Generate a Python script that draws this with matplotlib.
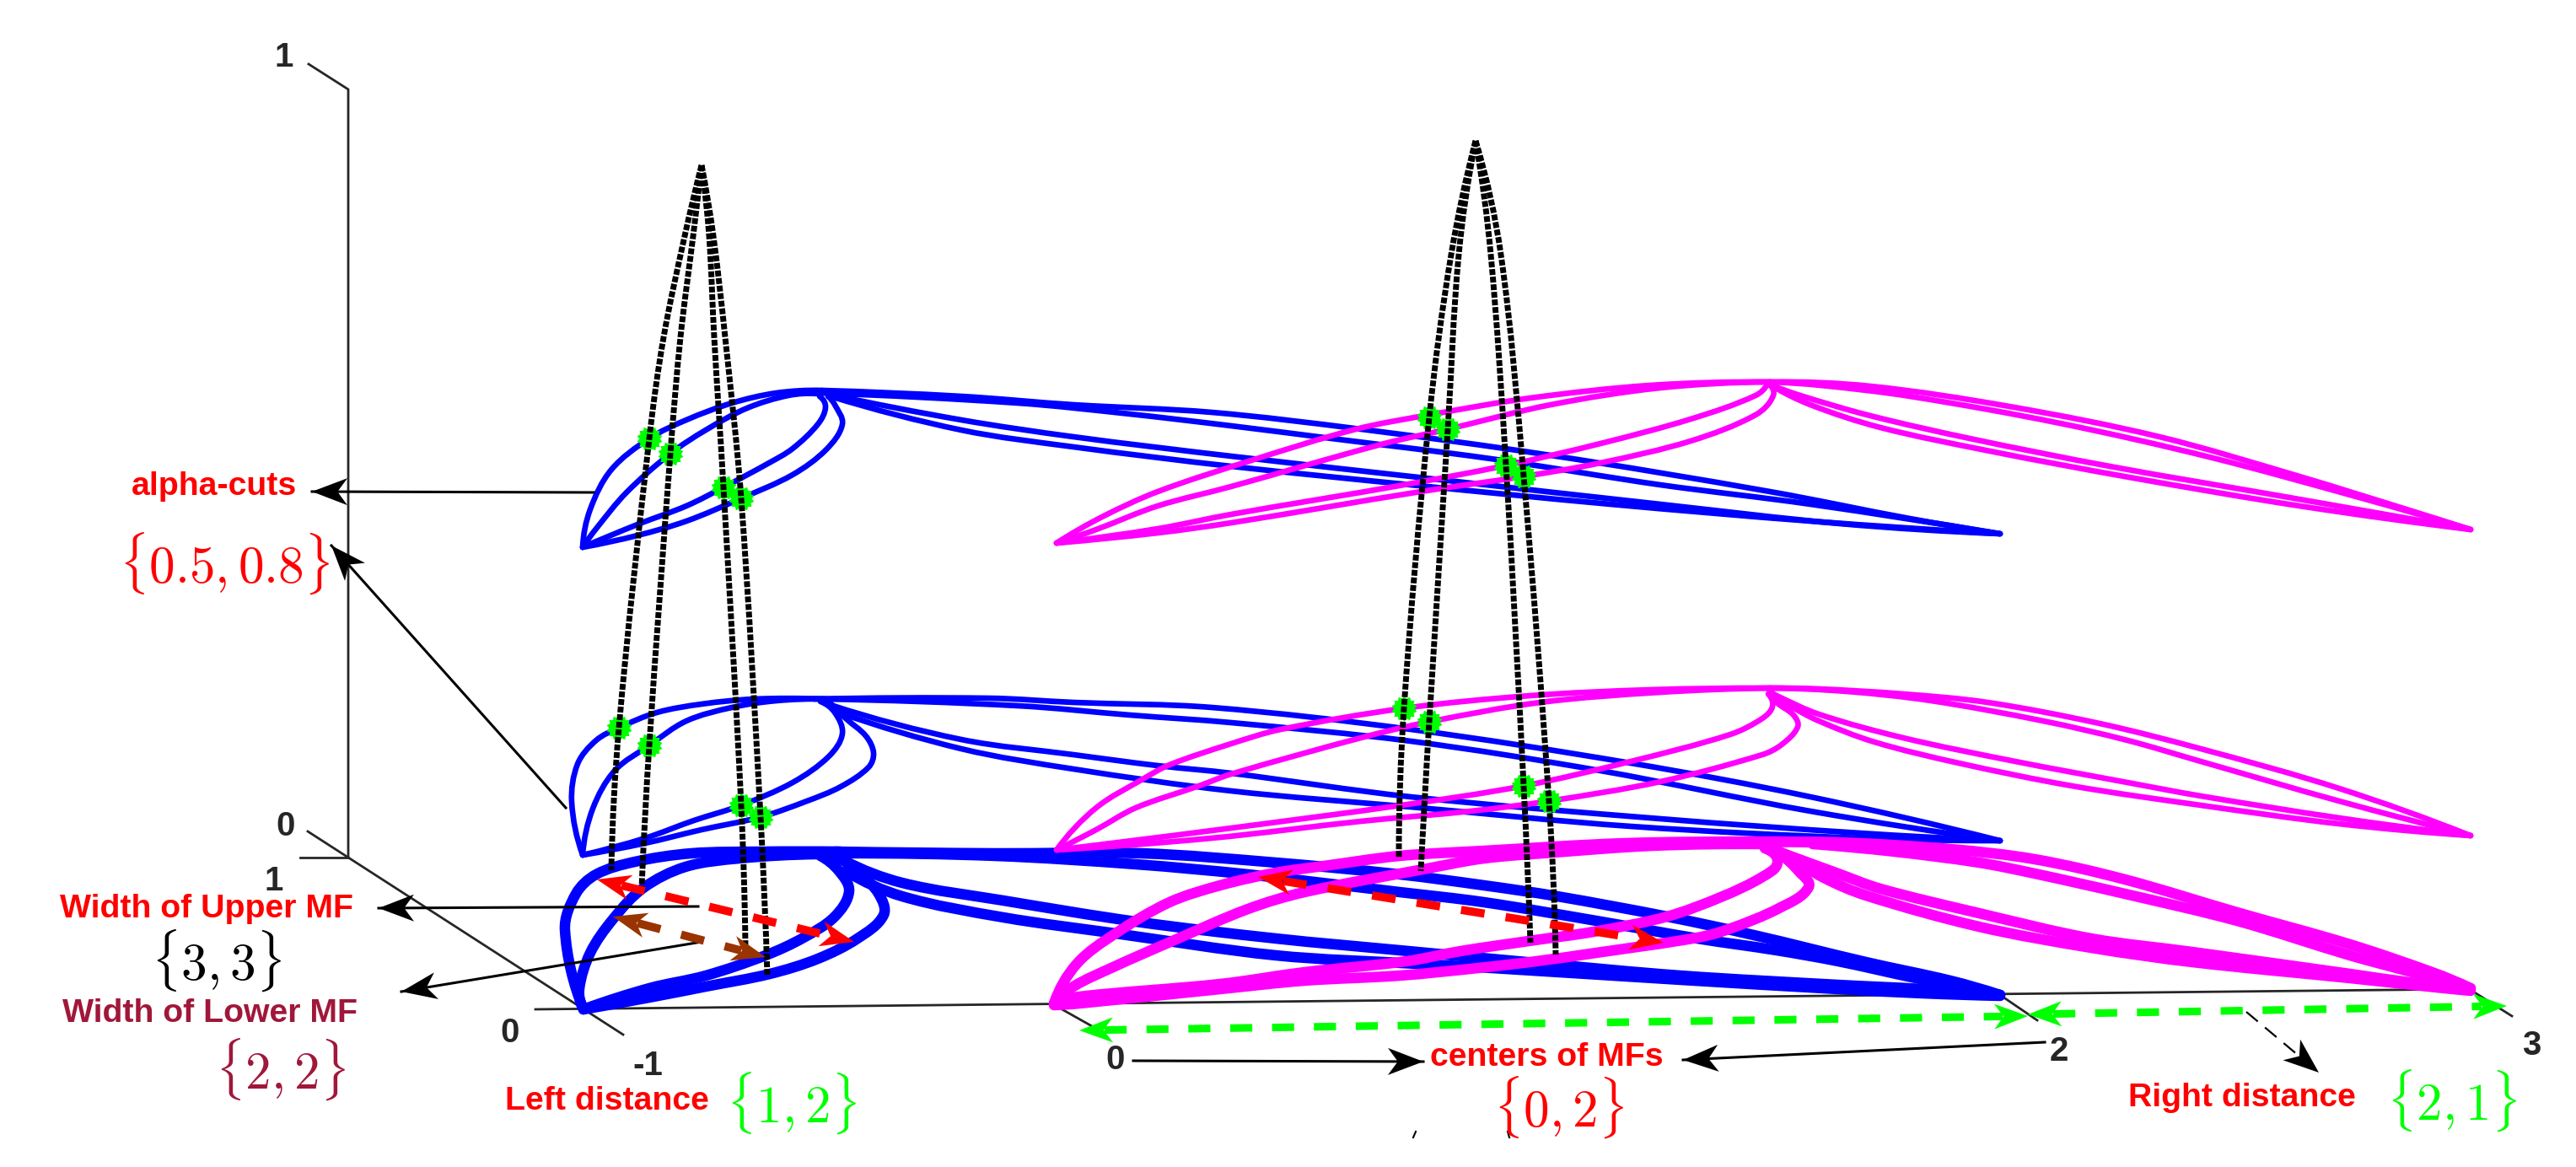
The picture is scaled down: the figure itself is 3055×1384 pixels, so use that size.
import matplotlib
matplotlib.use("Agg")
import matplotlib.pyplot as plt
from matplotlib.patches import PathPatch
from matplotlib.path import Path
import numpy as np

plt.rcParams["font.family"] = ["Liberation Sans", "DejaVu Sans"]
plt.rcParams["mathtext.fontset"] = "cm"

# blue lobe, top cut
blue_top_a = [(691, 649), (700, 604), (725, 557), (770, 520), (814, 498), (868, 478), (921, 466), (975, 463)]
blue_top_b = [(691, 649), (707, 627), (743, 584), (795, 538), (837, 510), (886, 484), (935, 469), (970, 467)]
blue_top_c = [(691, 649), (756, 622), (814, 600), (858, 578), (912, 549), (940, 532), (970, 503), (979, 483), (972, 470)]
blue_top_d = [(691, 649), (756, 635), (814, 618), (879, 591), (940, 563), (980, 533), (999, 503), (990, 480), (982, 470)]
blue_top_e = [(975, 463), (1140, 470), (1273, 480), (1437, 489), (1614, 509), (1839, 540), (2099, 583), (2265, 615), (2372, 633)]
blue_top_f = [(970, 466), (1207, 478), (1340, 491), (1460, 505), (1579, 520), (1768, 544), (1969, 575), (2147, 598), (2372, 633)]
blue_top_g = [(985, 468), (1140, 498), (1273, 518), (1460, 541), (1709, 569), (1969, 598), (2182, 621), (2372, 633)]
blue_top_h = [(985, 470), (1140, 510), (1273, 530), (1460, 553), (1673, 575), (1910, 598), (2147, 618), (2372, 633)]

# blue lobe, middle cut
blue_mid_a = [(691, 1014), (678, 951), (685, 906), (707, 878), (734, 863), (779, 845), (832, 835), (895, 829), (975, 829)]
blue_mid_b = [(691, 1014), (703, 959), (729, 914), (770, 884), (814, 855), (868, 839), (921, 831), (979, 829)]
blue_mid_c = [(691, 1014), (765, 994), (823, 973), (879, 955), (940, 928), (983, 897), (999, 870), (990, 845), (973, 832)]
blue_mid_d = [(691, 1014), (765, 1000), (832, 984), (902, 969), (957, 950), (997, 933), (1030, 910), (1036, 893), (1027, 873), (1003, 852), (984, 833)]
blue_mid_e = [(965, 829), (1173, 828), (1273, 833), (1437, 839), (1673, 865), (1934, 905), (2147, 945), (2372, 997)]
blue_mid_f = [(975, 829), (1207, 837), (1340, 848), (1460, 857), (1673, 879), (1898, 914), (2147, 962), (2372, 997)]
blue_mid_g = [(985, 836), (1140, 877), (1273, 895), (1373, 908), (1460, 917), (1673, 945), (1969, 971), (2206, 988), (2372, 997)]
blue_mid_h = [(995, 845), (1140, 888), (1273, 912), (1460, 938), (1673, 957), (1934, 980), (2206, 994), (2372, 997)]

# blue lobe, bottom
blue_low_a = [(692, 1197), (670, 1103), (683, 1060), (707, 1037), (753, 1022), (820, 1012), (903, 1010), (997, 1010)]
blue_low_b = [(692, 1197), (687, 1173), (700, 1130), (727, 1090), (763, 1053), (813, 1028), (877, 1018), (970, 1013)]
blue_low_c = [(692, 1197), (770, 1172), (837, 1157), (908, 1133), (953, 1112), (990, 1087), (1007, 1057), (995, 1033), (973, 1015)]
blue_low_d = [(692, 1197), (770, 1183), (837, 1170), (913, 1155), (970, 1137), (1017, 1113), (1048, 1085), (1042, 1060), (1017, 1033), (990, 1015)]
blue_low_e = [(990, 1010), (1180, 1012), (1354, 1012), (1513, 1023), (1660, 1037), (1760, 1050), (1847, 1063), (1977, 1087), (2080, 1109), (2213, 1141), (2313, 1163), (2372, 1180)]
blue_low_f = [(1000, 1012), (1180, 1015), (1347, 1025), (1480, 1037), (1660, 1058), (1760, 1070), (1893, 1092), (2013, 1113), (2107, 1127), (2180, 1140), (2272, 1160), (2372, 1180)]
blue_low_g = [(1000, 1020), (1070, 1047), (1190, 1068), (1347, 1093), (1513, 1113), (1660, 1127), (1822, 1142), (1993, 1157), (2180, 1168), (2280, 1173), (2372, 1180)]
blue_low_h = [(1003, 1033), (1070, 1063), (1190, 1088), (1323, 1107), (1513, 1133), (1680, 1143), (1753, 1147), (1993, 1162), (2180, 1173), (2280, 1178), (2372, 1181)]

# magenta lobe, top cut
mag_top_a = [(1253, 644), (1307, 613), (1373, 583), (1484, 546), (1608, 509), (1695, 492), (1815, 472), (1957, 457), (2099, 453)]
mag_top_b = [(1253, 644), (1300, 628), (1373, 600), (1460, 577), (1638, 527), (1717, 509), (1839, 480), (1969, 460), (2099, 453)]
mag_top_c = [(1253, 644), (1373, 627), (1460, 610), (1665, 575), (1786, 552), (1898, 526), (2005, 497), (2082, 469), (2097, 454)]
mag_top_d = [(1253, 644), (1373, 632), (1460, 620), (1685, 583), (1807, 565), (1898, 549), (2005, 523), (2082, 492), (2103, 469), (2096, 454)]
mag_top_e = [(2099, 453), (2218, 458), (2383, 482), (2561, 518), (2727, 565), (2857, 605), (2930, 628)]
mag_top_f = [(2099, 453), (2159, 457), (2265, 470), (2443, 502), (2620, 542), (2798, 590), (2930, 628)]
mag_top_g = [(2099, 456), (2135, 469), (2218, 493), (2336, 520), (2502, 553), (2715, 590), (2930, 628)]
mag_top_h = [(2099, 456), (2147, 480), (2230, 507), (2360, 535), (2525, 566), (2727, 600), (2930, 628)]

# magenta lobe, middle cut
mag_mid_a = [(1253, 1008), (1300, 958), (1357, 923), (1387, 907), (1460, 882), (1519, 865), (1665, 840), (1815, 825), (1957, 818), (2099, 816)]
mag_mid_b = [(1253, 1008), (1300, 984), (1347, 958), (1422, 932), (1460, 918), (1614, 875), (1695, 856), (1827, 833), (1969, 821), (2099, 816)]
mag_mid_c = [(1253, 1008), (1437, 985), (1662, 955), (1807, 932), (1934, 903), (2052, 871), (2090, 852), (2102, 838), (2097, 823)]
mag_mid_d = [(1253, 1008), (1437, 994), (1614, 974), (1744, 962), (1837, 950), (1969, 927), (2090, 895), (2113, 883), (2132, 862), (2127, 848), (2107, 833), (2099, 820)]
mag_mid_e = [(2099, 816), (2157, 817), (2257, 823), (2357, 833), (2490, 858), (2610, 888), (2774, 935), (2930, 991)]
mag_mid_f = [(2099, 816), (2190, 820), (2290, 831), (2423, 855), (2523, 878), (2610, 903), (2774, 950), (2930, 991)]
mag_mid_g = [(2099, 820), (2107, 825), (2157, 847), (2257, 875), (2390, 903), (2523, 928), (2610, 944), (2774, 970), (2930, 991)]
mag_mid_h = [(2099, 820), (2123, 837), (2157, 855), (2223, 880), (2323, 905), (2457, 932), (2610, 955), (2774, 977), (2930, 991)]

# magenta lobe, bottom
mag_low_a = [(1250, 1190), (1277, 1143), (1323, 1107), (1387, 1070), (1447, 1050), (1513, 1035), (1570, 1027), (1660, 1015), (1760, 1009), (1927, 1000), (2093, 998), (2147, 999)]
mag_low_b = [(1250, 1190), (1273, 1170), (1320, 1147), (1388, 1117), (1480, 1078), (1547, 1058), (1693, 1030), (1760, 1018), (1843, 1011), (1960, 1003), (2090, 1001)]
mag_low_c = [(1250, 1190), (1280, 1182), (1447, 1167), (1547, 1153), (1668, 1140), (1732, 1128), (1820, 1115), (1890, 1105), (1977, 1087), (2043, 1063), (2090, 1040), (2108, 1023), (2093, 1006)]
mag_low_d = [(1250, 1192), (1280, 1190), (1447, 1173), (1547, 1163), (1660, 1157), (1753, 1148), (1822, 1140), (1893, 1130), (2013, 1112), (2050, 1102), (2110, 1077), (2145, 1052), (2133, 1033), (2113, 1014), (2096, 1004)]
mag_low_e = [(2090, 999), (2180, 999), (2313, 1007), (2413, 1019), (2520, 1043), (2653, 1082), (2787, 1120), (2887, 1154), (2930, 1172)]
mag_low_f = [(2150, 1001), (2247, 1010), (2347, 1023), (2413, 1036), (2520, 1060), (2653, 1092), (2787, 1133), (2857, 1152), (2930, 1172)]
mag_low_g = [(2096, 1005), (2120, 1014), (2180, 1036), (2230, 1054), (2347, 1083), (2480, 1113), (2600, 1129), (2787, 1155), (2857, 1165), (2930, 1173)]
mag_low_h = [(2096, 1005), (2120, 1015), (2163, 1041), (2213, 1062), (2347, 1099), (2480, 1124), (2600, 1141), (2787, 1160), (2880, 1170), (2930, 1175)]

# black dotted upper/lower MF outlines going up to the apex
blue_spine_a = [(832, 196), (812, 280), (787, 400), (770, 520), (734, 863), (725, 1032)]
blue_spine_b = [(832, 196), (822, 280), (807, 400), (795, 538), (770, 884), (761, 1053)]
blue_spine_c = [(832, 196), (841, 280), (847, 400), (858, 578), (879, 955), (884, 1123)]
blue_spine_d = [(832, 196), (846, 280), (860, 400), (879, 591), (902, 969), (910, 1157)]
mag_spine_a = [(1750, 167), (1721, 302), (1695, 495), (1665, 840), (1659, 1017)]
mag_spine_b = [(1750, 167), (1730, 302), (1717, 509), (1695, 856), (1685, 1033)]
mag_spine_c = [(1750, 167), (1768, 302), (1786, 552), (1807, 932), (1815, 1118)]
mag_spine_d = [(1750, 167), (1780, 302), (1807, 565), (1837, 950), (1845, 1132)]

# alpha-cut points
cut_x = [770, 795, 858, 879, 734, 770, 879, 902, 1695, 1717, 1786, 1807, 1665, 1695, 1807, 1837]
cut_y = [520, 538, 578, 591, 863, 884, 955, 969, 495, 509, 552, 565, 840, 856, 932, 950]

# axis box lines
axis_lines = [
    [(366, 76), (413, 106), (413, 1017)],
    [(356, 1017), (413, 1017)],
    [(365, 986), (739, 1227)],
    [(635, 1197), (2930, 1173)],
    [(1247, 1190), (1295, 1217)],
    [(2372, 1180), (2416, 1210)],
    [(2930, 1174), (2979, 1205)],
]
tick_labels = ["1", "0", "1", "0", "-1", "0", "2", "3"]
tick_x = [337, 339, 325, 605, 768, 1323, 2442, 3002]
tick_y = [68, 980, 1045, 1225, 1264, 1257, 1247, 1240]

# double headed dashed arrows
red_span_a = [(708, 1043), (1013, 1117)]
brown_span = [(727, 1087), (908, 1135)]
red_span_b = [(1492, 1040), (1973, 1118)]
green_span_a = [(1280, 1222), (2405, 1205)]
green_span_b = [(2405, 1203), (2973, 1193)]

# thin black pointers, tail then tip
pointers = [
    [(704, 584), (370, 583)],
    [(671, 958), (393, 647)],
    [(828, 1075), (449, 1077)],
    [(832, 1117), (476, 1176)],
    [(1344, 1258), (1688, 1259)],
    [(2425, 1236), (1996, 1257)],
]
dashed_pointer = [(2664, 1200), (2750, 1272)]
stray_marks = [[(1676, 1349), (1679, 1342)], [(1788, 1342), (1790, 1349)]]

DARK_RED = "#a0173a"
GREEN = "#00ff00"


def smooth_path(pts):
    # bezier through the read points, handles along the neighbour chord
    p = np.array(pts, dtype=float)
    seg = np.linalg.norm(np.diff(p, axis=0), axis=1)
    tan = np.zeros_like(p)
    tan[1:-1] = p[2:] - p[:-2]
    tan[1:-1] /= np.linalg.norm(tan[1:-1], axis=1, keepdims=True)
    tan[0] = 2 * (p[1] - p[0]) / seg[0] - tan[1]
    tan[-1] = 2 * (p[-1] - p[-2]) / seg[-1] - tan[-2]
    verts = [p[0]]
    codes = [Path.MOVETO]
    for i in range(len(seg)):
        verts += [p[i] + tan[i] * seg[i] / 3, p[i + 1] - tan[i + 1] * seg[i] / 3, p[i + 1]]
        codes += [Path.CURVE4] * 3
    return Path(verts, codes)


def draw_curves(ax, curves, color, lw, z):
    for pts in curves:
        ax.add_patch(PathPatch(smooth_path(pts), fill=False, edgecolor=color, lw=lw, zorder=z,
                               joinstyle="round", capstyle="round"))


def draw_head(ax, tail, tip, color, z, length=40, half=15):
    tail = np.array(tail, dtype=float)
    tip = np.array(tip, dtype=float)
    d = (tip - tail) / np.linalg.norm(tip - tail)
    n = np.array([-d[1], d[0]])
    base = tip - d * length
    notch = tip - d * length * 0.72
    poly = np.array([tip, base + n * half, notch, base - n * half])
    ax.fill(poly[:, 0], poly[:, 1], color=color, lw=0, zorder=z)


def draw_span(ax, span, color, lw=7.0, z=7):
    a, b = np.array(span[0], dtype=float), np.array(span[1], dtype=float)
    d = (b - a) / np.linalg.norm(b - a)
    a2, b2 = a + d * 30, b - d * 30
    ax.plot([a2[0], b2[0]], [a2[1], b2[1]], color=color, lw=lw, zorder=z,
            linestyle=(0, (2.9, 2.6)), dash_capstyle="butt")
    draw_head(ax, b, a, color, z)
    draw_head(ax, a, b, color, z)


fig = plt.figure(figsize=(30.55, 13.84), dpi=100)
ax = fig.add_axes([0, 0, 1, 1])
ax.set_xlim(0, 3055)
ax.set_ylim(1384, 0)
ax.axis("off")

for pts in axis_lines:
    xy = np.array(pts)
    ax.plot(xy[:, 0], xy[:, 1], color="#262626", lw=2.0, zorder=1)
for pts in stray_marks:
    xy = np.array(pts)
    ax.plot(xy[:, 0], xy[:, 1], color="black", lw=1.5, zorder=1)

draw_curves(ax, [blue_top_a, blue_top_b, blue_top_c, blue_top_d, blue_top_e, blue_top_f, blue_top_g, blue_top_h,
                 blue_mid_a, blue_mid_b, blue_mid_c, blue_mid_d, blue_mid_e, blue_mid_f, blue_mid_g, blue_mid_h],
            "#0000ff", 4.8, 2)
draw_curves(ax, [blue_low_a, blue_low_b, blue_low_c, blue_low_d, blue_low_e, blue_low_f, blue_low_g, blue_low_h],
            "#0000ff", 9.0, 2)
draw_curves(ax, [mag_top_a, mag_top_b, mag_top_c, mag_top_d, mag_top_e, mag_top_f, mag_top_g, mag_top_h,
                 mag_mid_a, mag_mid_b, mag_mid_c, mag_mid_d, mag_mid_e, mag_mid_f, mag_mid_g, mag_mid_h],
            "#ff00ff", 4.8, 3)
draw_curves(ax, [mag_low_a, mag_low_b, mag_low_c, mag_low_d, mag_low_e, mag_low_f, mag_low_g, mag_low_h],
            "#ff00ff", 9.0, 3)

burst = Path.unit_regular_star(14, innerCircle=0.8)
ax.plot(cut_x, cut_y, linestyle="none", marker=burst, ms=22, color=GREEN, mew=0, zorder=4)

for pts in [blue_spine_a, blue_spine_b, blue_spine_c, blue_spine_d,
            mag_spine_a, mag_spine_b, mag_spine_c, mag_spine_d]:
    ax.add_patch(PathPatch(smooth_path(pts), fill=False, edgecolor="black", lw=5.0, zorder=5,
                           linestyle=(0, (1.0, 0.3)), capstyle="butt"))

for tail, tip in pointers:
    ax.plot([tail[0], tip[0]], [tail[1], tip[1]], color="black", lw=2.2, zorder=6)
    draw_head(ax, tail, tip, "black", 6, length=42, half=16)
ax.plot([dashed_pointer[0][0], dashed_pointer[1][0]], [dashed_pointer[0][1], dashed_pointer[1][1]],
        color="black", lw=1.6, zorder=6, linestyle=(0, (8, 5)))
draw_head(ax, dashed_pointer[0], dashed_pointer[1], "black", 6, length=42, half=16)

draw_span(ax, red_span_a, "#ff0000")
draw_span(ax, brown_span, "#993300")
draw_span(ax, red_span_b, "#ff0000")
draw_span(ax, green_span_a, GREEN, lw=6.5)
draw_span(ax, green_span_b, GREEN, lw=6.5)

for s, x, y in zip(tick_labels, tick_x, tick_y):
    ax.text(x, y, s, color="#262626", fontsize=29, fontweight="bold", ha="center", va="center", zorder=8)

label_opts = dict(fontsize=28.3, fontweight="bold", ha="center", va="center", zorder=8)
ax.text(254, 577, "alpha-cuts", color="#ff0000", **label_opts)
ax.text(245, 1078, "Width of Upper MF", color="#ff0000", **label_opts)
ax.text(249, 1202, "Width of Lower MF", color=DARK_RED, **label_opts)
ax.text(720, 1306, "Left distance", color="#ff0000", **label_opts)
ax.text(1834, 1254, "centers of MFs", color="#ff0000", **label_opts)
ax.text(2659, 1302, "Right distance", color="#ff0000", **label_opts)

math_opts = dict(fontsize=44, ha="center", va="center", zorder=8)
ax.text(266, 668, r"$\{0.5, 0.8\}$", color="#ff0000", **math_opts)
ax.text(257, 1139, r"$\{3, 3\}$", color="black", **math_opts)
ax.text(333, 1268, r"$\{2, 2\}$", color=DARK_RED, **math_opts)
ax.text(939, 1308, r"$\{1, 2\}$", color=GREEN, **math_opts)
ax.text(1849, 1313, r"$\{0, 2\}$", color="#ff0000", **math_opts)
ax.text(2908, 1305, r"$\{2, 1\}$", color=GREEN, **math_opts)

fig.savefig("out.png", dpi=100)
plt.close(fig)
